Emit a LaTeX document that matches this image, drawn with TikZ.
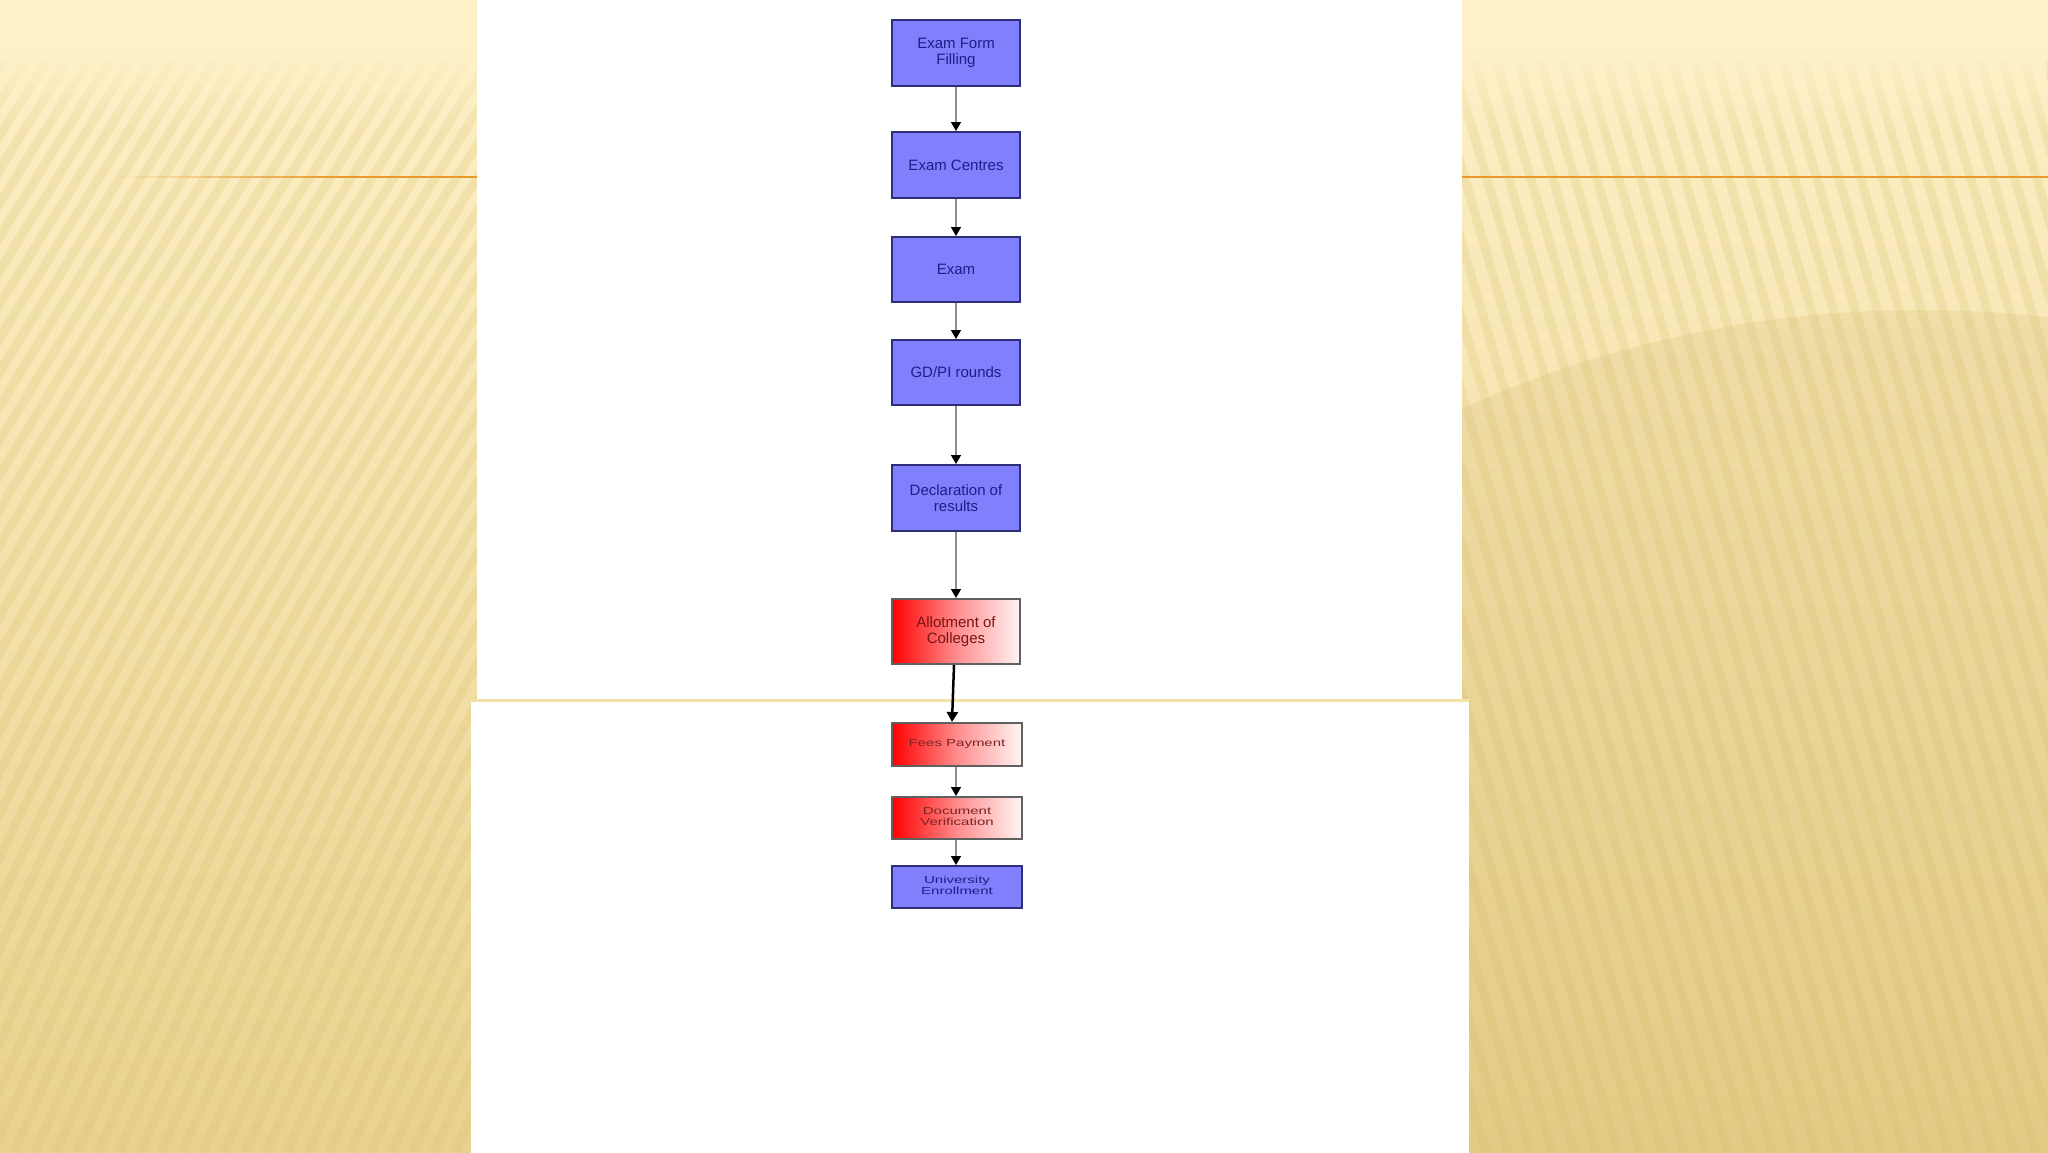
\documentclass[tikz,border=0pt]{standalone}
\usepackage{fontspec}
\setmainfont{Liberation Sans}
\usepackage{graphicx}
\usetikzlibrary{arrows.meta,fadings}

\definecolor{bgtop}{HTML}{FEF1C8}
\definecolor{bgbot}{HTML}{E9D28E}
\definecolor{stripecol}{HTML}{D8BC6C}
\definecolor{circcol}{HTML}{CDAE5E}
\definecolor{orangeline}{HTML}{E89A2E}
\definecolor{seamcol}{HTML}{F3E2A8}
\definecolor{bluefill}{HTML}{8080FC}
\definecolor{blueborder}{HTML}{2E2E78}
\definecolor{bluetext}{HTML}{1E1E88}
\definecolor{redtext}{HTML}{7A1414}
\definecolor{redborder}{HTML}{606060}
\definecolor{arrowgrey}{HTML}{8C8C8C}

\tikzfading[name=fadedown, top color=transparent!0, bottom color=transparent!100]
\tikzfading[name=fadeleft, left color=transparent!100, right color=transparent!0]

\begin{document}
\begin{tikzpicture}[x=1pt,y=-1pt,
  bluebox/.style={draw=blueborder, line width=2pt, fill=bluefill, minimum width=128pt,
    inner sep=0pt, align=center, text=bluetext, font=\fontsize{15}{16}\selectfont},
  redbox/.style={draw=redborder, line width=2pt, left color=red, right color=red!4!white,
    middle color=red!45!white,
    minimum width=128pt, inner sep=0pt, align=center, text=redtext,
    font=\fontsize{15}{16}\selectfont},
  flowarrow/.style={draw=arrowgrey, line width=1.5pt,
    -{Triangle[color=black,width=10pt,length=9pt]}},
  boldarrow/.style={draw=black, line width=2.5pt,
    -{Triangle[color=black,width=11pt,length=10pt]}},
  stripeline/.style={draw=stripecol, line width=9pt, opacity=0.22}
]
\useasboundingbox (0,0) rectangle (2048,1152);

% background
\shade[top color=bgtop, bottom color=bgbot] (0,0) rectangle (2048,1152);

% left stripes
\begin{scope}
  \clip (0,60) rectangle (477,1152);
  \foreach \k in {0,...,62} {
    \draw[stripeline] ({-700+\k*21},1152) .. controls ({-500+\k*21},700) .. ({-100+\k*21},60);
  }
\end{scope}

% right stripes and darker disc
\begin{scope}
  \clip (1462,60) rectangle (2048,1152);
  \foreach \k in {0,...,46} {
    \draw[stripeline] ({1100+\k*22},60) -- ({1420+\k*22},1152);
  }
  \fill[circcol, opacity=0.18] (1920,1420) circle[radius=1110pt];
\end{scope}

% plain top band
\fill[bgtop] (0,0) rectangle (2048,50);
\fill[bgtop, path fading=fadedown] (0,48) rectangle (2048,130);

% orange rules
\fill[orangeline, path fading=fadeleft] (110,175.5) rectangle (340,178);
\fill[orangeline] (338,175.5) rectangle (477,178);
\fill[orangeline] (1462,175.5) rectangle (2048,178);

% white slide panels
\fill[white] (477,0) rectangle (1462,699);
\fill[white] (471,701.5) rectangle (1469,1153);
\fill[seamcol] (471,699) rectangle (1469,701.5);

% flowchart nodes
\node[bluebox, minimum height=66pt] (b1) at (956,53) {Exam Form\\Filling};
\node[bluebox, minimum height=66pt] (b2) at (956,165) {Exam Centres};
\node[bluebox, minimum height=65pt] (b3) at (956,269.5) {Exam};
\node[bluebox, minimum height=65pt] (b4) at (956,372.5) {GD/PI rounds};
\node[bluebox, minimum height=66pt] (b5) at (956,498) {Declaration of\\results};
\node[redbox, minimum height=65pt] (b6) at (956,631.5) {Allotment of\\Colleges};
\node[redbox, minimum width=130pt, minimum height=43pt, text=redtext!85!gray] (b7) at (957,744.5)
  {\scalebox{1}[0.68]{Fees Payment}};
\node[redbox, minimum width=130pt, minimum height=42pt, text=redtext!85!gray] (b8) at (957,818)
  {\scalebox{1}[0.68]{\begin{tabular}{@{}c@{}}Document\\Verification\end{tabular}}};
\node[bluebox, minimum width=130pt, minimum height=42pt] (b9) at (957,887)
  {\scalebox{1}[0.68]{\begin{tabular}{@{}c@{}}University\\Enrollment\end{tabular}}};

% connectors
\draw[flowarrow] (b1.south) -- (b2.north);
\draw[flowarrow] (b2.south) -- (b3.north);
\draw[flowarrow] (b3.south) -- (b4.north);
\draw[flowarrow] (b4.south) -- (b5.north);
\draw[flowarrow] (b5.south) -- (b6.north);
\draw[boldarrow] ([xshift=-2pt]b6.south) -- ([xshift=-5pt]b7.north);
\draw[flowarrow] ([xshift=-1pt]b7.south) -- ([xshift=-1pt]b8.north);
\draw[flowarrow] ([xshift=-1pt]b8.south) -- ([xshift=-1pt]b9.north);
\end{tikzpicture}
\end{document}
